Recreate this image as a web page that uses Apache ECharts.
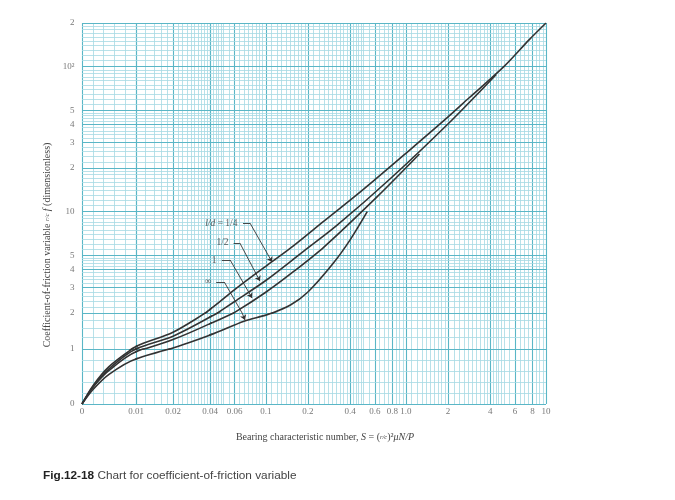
<!DOCTYPE html>
<html>
<head>
<meta charset="utf-8">
<title>Chart for coefficient-of-friction variable</title>
<script src="https://cdn.jsdelivr.net/npm/echarts@6.0.0/dist/echarts.min.js"></script>
<style>
html,body{margin:0;padding:0;background:#ffffff;}
#chart{width:675px;height:500px;}
</style>
</head>
<body>
<div id="chart"></div>
<script>
// ---------------- data ----------------
const curveNames = ['l/d = 1/4', '1/2', '1', '∞'];

const sQuarter = [0, 0.002, 0.005, 0.01, 0.02, 0.04, 0.06, 0.1, 0.15, 0.26, 0.5, 1.07, 2, 2.83, 5, 7.57, 10];
const fQuarter = [0, 0.33, 0.68, 1.05, 1.38, 2.12, 2.9, 4.2, 5.6, 8.6, 14.3, 26.7, 45, 61, 100, 153, 200];

const sHalf = [0, 0.002, 0.005, 0.01, 0.02, 0.04, 0.06, 0.1, 0.18, 0.32, 0.78, 2.03, 4.4];
const fHalf = [0, 0.31, 0.64, 1.0, 1.28, 1.85, 2.4, 3.35, 5.2, 8.0, 17, 40.9, 88];

const sOne = [0, 0.002, 0.005, 0.01, 0.02, 0.04, 0.06, 0.1, 0.16, 0.26, 0.63, 1.25];
const fOne = [0, 0.3, 0.61, 0.95, 1.2, 1.63, 2.02, 2.78, 3.9, 5.7, 12.8, 25];

const sInf = [0, 0.002, 0.005, 0.01, 0.02, 0.04, 0.07, 0.1, 0.15, 0.2, 0.3, 0.4, 0.53];
const fInf = [0, 0.26, 0.54, 0.82, 1.02, 1.31, 1.71, 1.92, 2.27, 2.79, 4.35, 6.39, 10];

const xTickValues = [0, 0.01, 0.02, 0.04, 0.06, 0.1, 0.2, 0.4, 0.6, 0.8, 1, 2, 4, 6, 8, 10];
const xTickLabels = ['0', '0.01', '0.02', '0.04', '0.06', '0.1', '0.2', '0.4', '0.6', '0.8', '1.0', '2', '4', '6', '8', '10'];
const yTickValues = [0, 1, 2, 3, 4, 5, 10, 20, 30, 40, 50, 100, 200];
const yTickLabels = ['0', '1', '2', '3', '4', '5', '10', '2', '3', '4', '5', '10²', '2'];

// ---------------- chart construction ----------------
const curves = [
  [sQuarter, fQuarter],
  [sHalf, fHalf],
  [sOne, fOne],
  [sInf, fInf]
];

// piecewise axes: linear near zero, logarithmic elsewhere (each piece is its own grid)
const X_SEGS = [
  { type: 'value', min: 0, max: 0.01, left: 82, right: 136 },
  { type: 'log', min: 0.01, max: 0.04, left: 136, right: 210 },
  { type: 'log', min: 0.04, max: 10, left: 210, right: 546 }
];
const Y_SEGS = [
  { type: 'value', min: 0, max: 1, top: 349, bottom: 404 },
  { type: 'log', min: 1, max: 2, top: 313, bottom: 349 },
  { type: 'log', min: 2, max: 200, top: 23, bottom: 313 }
];

const SERIF = '"Liberation Serif", "DejaVu Serif", serif';
const MAJOR = '#5ab6c6';
const MINOR = '#a6d9e3';
const CURVE = '#333333';

function r6(v) { return +v.toPrecision(6); }

// graph-paper rulings
function logRulings(min, max, coarseFirst) {
  const out = [];
  for (let e = Math.floor(Math.log10(min)); Math.pow(10, e) <= max * 1.0001; e++) {
    const d = Math.pow(10, e);
    const ms = [];
    const s1 = coarseFirst ? 0.2 : 0.1;
    for (let m = 1; m < 2 - 1e-9; m += s1) ms.push(m);
    for (let m = 2; m < 5 - 1e-9; m += 0.2) ms.push(m);
    for (let m = 5; m < 10 - 1e-9; m += 0.5) ms.push(m);
    ms.forEach(m => {
      const v = r6(m * d);
      if (v >= min * 0.9999 && v <= max * 1.0001) out.push(v);
    });
  }
  if (out.indexOf(r6(max)) < 0) out.push(r6(max));
  return out;
}
function linRulings(min, max, step) {
  const out = [];
  for (let v = min; v <= max + 1e-12; v += step) out.push(r6(v));
  return out;
}
const xRulings = [
  linRulings(0, 0.01, 0.002),
  logRulings(0.01, 0.04, true),
  logRulings(0.04, 10, false)
];
const yRulings = [
  linRulings(0, 1, 0.2),
  [1, 1.25, 1.5, 1.75, 2],
  logRulings(2, 200, false)
];
function isMajor(v, ticks) {
  return ticks.some(t => Math.abs(t - v) <= Math.abs(t) * 1e-6 + 1e-12);
}

// keep only the points of a curve that take part in a piece of the chart
function piecePoints(xs, ys, xs_, ys_) {
  const n = xs.length;
  const keep = new Array(n).fill(false);
  for (let i = 0; i < n - 1; i++) {
    const x0 = Math.min(xs[i], xs[i + 1]), x1 = Math.max(xs[i], xs[i + 1]);
    const y0 = Math.min(ys[i], ys[i + 1]), y1 = Math.max(ys[i], ys[i + 1]);
    if (x1 >= xs_.min && x0 <= xs_.max && y1 >= ys_.min && y0 <= ys_.max) {
      keep[i] = true; keep[i + 1] = true;
    }
  }
  const pts = [];
  for (let i = 0; i < n; i++) {
    if (!keep[i]) continue;
    if (xs_.type === 'log' && !(xs[i] > 0)) continue;
    if (ys_.type === 'log' && !(ys[i] > 0)) continue;
    pts.push([xs[i], ys[i]]);
  }
  return pts;
}

const grids = [], xAxes = [], yAxes = [], series = [];

Y_SEGS.forEach((ys_, j) => {
  X_SEGS.forEach((xs_, i) => {
    const k = grids.length;
    grids.push({
      left: xs_.left, top: ys_.top,
      width: xs_.right - xs_.left, height: ys_.bottom - ys_.top,
      containLabel: false, show: false
    });
    xAxes.push({ gridIndex: k, type: xs_.type, min: xs_.min, max: xs_.max, show: false, logBase: 10 });
    yAxes.push({ gridIndex: k, type: ys_.type, min: ys_.min, max: ys_.max, show: false, logBase: 10 });

    // rulings (kept underneath the curves)
    const ml = [];
    xRulings[i].forEach(v => {
      const maj = isMajor(v, xTickValues);
      ml.push({ xAxis: v, lineStyle: { color: maj ? MAJOR : MINOR, width: maj ? 1.1 : 0.8, type: 'solid' } });
    });
    yRulings[j].forEach(v => {
      const maj = isMajor(v, yTickValues);
      ml.push({ yAxis: v, lineStyle: { color: maj ? MAJOR : MINOR, width: maj ? 1.1 : 0.8, type: 'solid' } });
    });
    series.push({
      type: 'line', xAxisIndex: k, yAxisIndex: k, data: [], silent: true, z: 1,
      markLine: {
        silent: true, symbol: 'none', animation: false, precision: 6, z: 1,
        label: { show: false }, emphasis: { disabled: true },
        data: ml
      }
    });

    // curves
    curves.forEach((c, ci) => {
      const pts = piecePoints(c[0], c[1], xs_, ys_);
      if (pts.length < 2) return;
      series.push({
        name: curveNames[ci], type: 'line', xAxisIndex: k, yAxisIndex: k,
        data: pts, showSymbol: false, smooth: 0.3, clip: true, silent: true, z: 10,
        lineStyle: { color: CURVE, width: 1.6 }
      });
    });

    // tick labels (bottom row for S, left column for the friction variable)
    if (j === 0) {
      const d = [];
      xTickValues.forEach((v, t) => {
        const first = X_SEGS.findIndex(s => v >= s.min && v <= s.max);
        if (first === i) d.push({ value: [v, ys_.min], name: xTickLabels[t] });
      });
      series.push({
        type: 'scatter', xAxisIndex: k, yAxisIndex: k, data: d, symbolSize: 1, clip: false, silent: true, z: 12,
        itemStyle: { color: 'rgba(0,0,0,0)' },
        label: { show: true, position: 'bottom', distance: 3, formatter: '{b}', fontFamily: SERIF, fontSize: 9, color: '#555' }
      });
    }
    if (i === 0) {
      const d = [];
      yTickValues.forEach((v, t) => {
        const first = Y_SEGS.findIndex(s => v >= s.min && v <= s.max);
        if (first === j) d.push({ value: [xs_.min, v], name: yTickLabels[t] });
      });
      series.push({
        type: 'scatter', xAxisIndex: k, yAxisIndex: k, data: d, symbolSize: 1, clip: false, silent: true, z: 12,
        itemStyle: { color: 'rgba(0,0,0,0)' },
        label: { show: true, position: 'left', distance: 7, formatter: '{b}', fontFamily: SERIF, fontSize: 9, color: '#555' }
      });
    }
  });
});

// curve annotations (leader lines with arrows)
const kUR = 8, kMR = 5;
const annLabelStyle = {
  show: true, position: 'left', distance: 2,
  formatter: p => p.name.replace('l/d', '{i|l/d}'),
  fontFamily: SERIF, fontSize: 9.5, color: '#333',
  rich: { i: { fontFamily: SERIF, fontSize: 9.5, fontStyle: 'italic', color: '#333' } }
};
series.push({
  type: 'scatter', xAxisIndex: kUR, yAxisIndex: kUR, symbolSize: 1, clip: false, silent: true, z: 12,
  itemStyle: { color: 'rgba(0,0,0,0)' }, label: annLabelStyle,
  data: [
    { value: [0.0655, 8.34], name: curveNames[0] },
    { value: [0.0565, 6.08], name: curveNames[1] },
    { value: [0.0463, 4.64], name: curveNames[2] },
    { value: [0.0428, 3.30], name: curveNames[3] }
  ]
});
const leader = { color: '#333', width: 0.9, type: 'solid' };
series.push({
  type: 'line', xAxisIndex: kUR, yAxisIndex: kUR, data: [], silent: true, z: 12,
  markLine: {
    silent: true, animation: false, symbol: ['none', 'arrow'], symbolSize: 5, z: 12,
    label: { show: false }, lineStyle: leader, emphasis: { disabled: true },
    data: [
      [{ coord: [0.0688, 8.34], symbol: 'none' }, { coord: [0.0772, 8.34], symbol: 'none' }],
      [{ coord: [0.0772, 8.34], symbol: 'none' }, { coord: [0.1109, 4.50], symbol: 'arrow' }],
      [{ coord: [0.0590, 6.08], symbol: 'none' }, { coord: [0.0653, 6.08], symbol: 'none' }],
      [{ coord: [0.0653, 6.08], symbol: 'none' }, { coord: [0.0909, 3.32], symbol: 'arrow' }],
      [{ coord: [0.0486, 4.64], symbol: 'none' }, { coord: [0.0557, 4.64], symbol: 'none' }],
      [{ coord: [0.0557, 4.64], symbol: 'none' }, { coord: [0.0798, 2.54], symbol: 'arrow' }],
      [{ coord: [0.0443, 3.27], symbol: 'none' }, { coord: [0.0506, 3.27], symbol: 'none' }],
      [{ coord: [0.0506, 3.27], symbol: 'none' }, { coord: [0.0678, 2.0], symbol: 'none' }]
    ]
  }
});
series.push({
  type: 'line', xAxisIndex: kMR, yAxisIndex: kMR, data: [], silent: true, z: 12,
  markLine: {
    silent: true, animation: false, symbol: ['none', 'arrow'], symbolSize: 5, z: 12,
    label: { show: false }, lineStyle: leader, emphasis: { disabled: true },
    data: [
      [{ coord: [0.0678, 2.0], symbol: 'none' }, { coord: [0.0711, 1.75], symbol: 'arrow' }]
    ]
  }
});

const option = {
  animation: false,
  backgroundColor: '#ffffff',
  grid: grids,
  xAxis: xAxes,
  yAxis: yAxes,
  series: series,
  graphic: [
    {
      type: 'text', x: 47, y: 245, rotation: Math.PI / 2, silent: true,
      style: {
        text: '{n|Coefficient-of-friction variable }{s|r/c}{i| f}{n| (dimensionless)}',
        align: 'center', verticalAlign: 'middle', fill: '#444',
        font: '10px "Liberation Serif"',
        rich: {
          n: { fontFamily: 'Liberation Serif', fontSize: 10, fill: '#444' },
          s: { fontFamily: 'Liberation Serif', fontSize: 6.5, fontStyle: 'italic', fill: '#444' },
          i: { fontFamily: 'Liberation Serif', fontSize: 10, fontStyle: 'italic', fill: '#444' }
        }
      }
    },
    {
      type: 'text', x: 325, y: 437, silent: true,
      style: {
        text: '{n|Bearing characteristic number, }{i|S}{n| = (}{s|r/c}{n|)²}{i|μN/P}',
        align: 'center', verticalAlign: 'middle', fill: '#444',
        font: '10px "Liberation Serif"',
        rich: {
          n: { fontFamily: 'Liberation Serif', fontSize: 10, fill: '#444' },
          s: { fontFamily: 'Liberation Serif', fontSize: 6.5, fontStyle: 'italic', fill: '#444' },
          i: { fontFamily: 'Liberation Serif', fontSize: 10, fontStyle: 'italic', fill: '#444' }
        }
      }
    },
    {
      type: 'text', x: 43, y: 476, silent: true,
      style: {
        text: '{b|Fig.12-18} {n|Chart for coefficient-of-friction variable}',
        align: 'left', verticalAlign: 'middle', fill: '#333',
        font: '11.8px "Liberation Sans"',
        rich: {
          b: { fontFamily: 'Liberation Sans', fontSize: 11.8, fontWeight: 'bold', fill: '#222' },
          n: { fontFamily: 'Liberation Sans', fontSize: 11.8, fill: '#444' }
        }
      }
    }
  ]
};

const chart = echarts.init(document.getElementById('chart'), null, { renderer: 'canvas' });
chart.setOption(option);
</script>
</body>
</html>
